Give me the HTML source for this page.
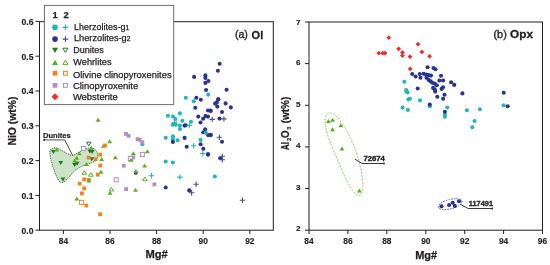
<!DOCTYPE html>
<html><head><meta charset="utf-8"><style>
html,body{margin:0;padding:0;background:#fff;}
svg{display:block;}
text{font-family:"Liberation Sans",Arial,sans-serif;fill:#231f20;}
.tk{font-size:8.4px;font-weight:bold;stroke:#231f20;stroke-width:0.15px;}
.at{font-size:10.2px;font-weight:bold;stroke:#231f20;stroke-width:0.25px;}
.pt{font-size:11.2px;font-weight:bold;stroke:#231f20;stroke-width:0.3px;}
.pa{font-size:10.6px;stroke:#231f20;stroke-width:0.35px;}
.lh{font-size:9.4px;font-weight:bold;stroke:#231f20;stroke-width:0.25px;}
.lg{font-size:9px;stroke:#231f20;stroke-width:0.25px;}
.dl{font-size:7.6px;font-weight:bold;stroke:#231f20;stroke-width:0.2px;}
.fl{font-size:7.3px;font-weight:bold;stroke:#231f20;stroke-width:0.35px;}
</style></head><body>
<svg width="550" height="265" viewBox="0 0 550 265">
<rect width="550" height="265" fill="#fff"/>
<rect x="39.5" y="21.7" width="233.8" height="208.5" fill="none" stroke="#231f20" stroke-width="1"/>
<line x1="63.4" y1="230.2" x2="63.4" y2="234" stroke="#231f20" stroke-width="1"/>
<text x="63.4" y="244.0" class="tk" text-anchor="middle">84</text>
<line x1="110.0" y1="230.2" x2="110.0" y2="234" stroke="#231f20" stroke-width="1"/>
<text x="110.0" y="244.0" class="tk" text-anchor="middle">86</text>
<line x1="156.6" y1="230.2" x2="156.6" y2="234" stroke="#231f20" stroke-width="1"/>
<text x="156.6" y="244.0" class="tk" text-anchor="middle">88</text>
<line x1="203.2" y1="230.2" x2="203.2" y2="234" stroke="#231f20" stroke-width="1"/>
<text x="203.2" y="244.0" class="tk" text-anchor="middle">90</text>
<line x1="249.8" y1="230.2" x2="249.8" y2="234" stroke="#231f20" stroke-width="1"/>
<text x="249.8" y="244.0" class="tk" text-anchor="middle">92</text>
<line x1="35.5" y1="230.2" x2="39.5" y2="230.2" stroke="#231f20" stroke-width="1"/>
<text x="21.5" y="233.5" class="tk" textLength="12.0" lengthAdjust="spacingAndGlyphs">0.0</text>
<line x1="35.5" y1="195.4" x2="39.5" y2="195.4" stroke="#231f20" stroke-width="1"/>
<text x="21.5" y="198.7" class="tk" textLength="12.0" lengthAdjust="spacingAndGlyphs">0.1</text>
<line x1="35.5" y1="160.6" x2="39.5" y2="160.6" stroke="#231f20" stroke-width="1"/>
<text x="21.5" y="163.9" class="tk" textLength="12.0" lengthAdjust="spacingAndGlyphs">0.2</text>
<line x1="35.5" y1="125.8" x2="39.5" y2="125.8" stroke="#231f20" stroke-width="1"/>
<text x="21.5" y="129.2" class="tk" textLength="12.0" lengthAdjust="spacingAndGlyphs">0.3</text>
<line x1="35.5" y1="91.0" x2="39.5" y2="91.0" stroke="#231f20" stroke-width="1"/>
<text x="21.5" y="94.3" class="tk" textLength="12.0" lengthAdjust="spacingAndGlyphs">0.4</text>
<line x1="35.5" y1="56.2" x2="39.5" y2="56.2" stroke="#231f20" stroke-width="1"/>
<text x="21.5" y="59.5" class="tk" textLength="12.0" lengthAdjust="spacingAndGlyphs">0.5</text>
<line x1="35.5" y1="21.4" x2="39.5" y2="21.4" stroke="#231f20" stroke-width="1"/>
<text x="21.5" y="24.8" class="tk" textLength="12.0" lengthAdjust="spacingAndGlyphs">0.6</text>
<rect x="309" y="22" width="233.5" height="208.2" fill="none" stroke="#231f20" stroke-width="1"/>
<line x1="309.0" y1="230.2" x2="309.0" y2="234" stroke="#231f20" stroke-width="1"/>
<text x="309.0" y="244.0" class="tk" text-anchor="middle">84</text>
<line x1="347.9" y1="230.2" x2="347.9" y2="234" stroke="#231f20" stroke-width="1"/>
<text x="347.9" y="244.0" class="tk" text-anchor="middle">86</text>
<line x1="386.8" y1="230.2" x2="386.8" y2="234" stroke="#231f20" stroke-width="1"/>
<text x="386.8" y="244.0" class="tk" text-anchor="middle">88</text>
<line x1="425.8" y1="230.2" x2="425.8" y2="234" stroke="#231f20" stroke-width="1"/>
<text x="425.8" y="244.0" class="tk" text-anchor="middle">90</text>
<line x1="464.7" y1="230.2" x2="464.7" y2="234" stroke="#231f20" stroke-width="1"/>
<text x="464.7" y="244.0" class="tk" text-anchor="middle">92</text>
<line x1="503.6" y1="230.2" x2="503.6" y2="234" stroke="#231f20" stroke-width="1"/>
<text x="503.6" y="244.0" class="tk" text-anchor="middle">94</text>
<line x1="542.5" y1="230.2" x2="542.5" y2="234" stroke="#231f20" stroke-width="1"/>
<text x="542.5" y="244.0" class="tk" text-anchor="middle">96</text>
<line x1="305" y1="230.2" x2="309" y2="230.2" stroke="#231f20" stroke-width="1"/>
<text x="300.4" y="231.4" class="tk" style="font-size:8.1px" text-anchor="end">2</text>
<line x1="305" y1="188.6" x2="309" y2="188.6" stroke="#231f20" stroke-width="1"/>
<text x="300.4" y="189.8" class="tk" style="font-size:8.1px" text-anchor="end">3</text>
<line x1="305" y1="146.9" x2="309" y2="146.9" stroke="#231f20" stroke-width="1"/>
<text x="300.4" y="148.1" class="tk" style="font-size:8.1px" text-anchor="end">4</text>
<line x1="305" y1="105.3" x2="309" y2="105.3" stroke="#231f20" stroke-width="1"/>
<text x="300.4" y="106.5" class="tk" style="font-size:8.1px" text-anchor="end">5</text>
<line x1="305" y1="63.6" x2="309" y2="63.6" stroke="#231f20" stroke-width="1"/>
<text x="300.4" y="64.8" class="tk" style="font-size:8.1px" text-anchor="end">6</text>
<line x1="305" y1="22.0" x2="309" y2="22.0" stroke="#231f20" stroke-width="1"/>
<text x="300.4" y="24.8" class="tk" style="font-size:8.1px" text-anchor="end">7</text>
<text x="145.5" y="258.2" class="at" textLength="22.3" lengthAdjust="spacingAndGlyphs">Mg#</text>
<text x="415.2" y="258.6" class="at" textLength="21.9" lengthAdjust="spacingAndGlyphs">Mg#</text>
<text transform="translate(16.0,145.6) rotate(-90)" class="at" textLength="49" lengthAdjust="spacingAndGlyphs">NiO (wt%)</text>
<g transform="translate(289.4,150.0) rotate(-90)"><text x="0" y="0" class="at" textLength="7.9" lengthAdjust="spacingAndGlyphs">Al</text><text x="9.2" y="1.6" class="at" style="font-size:5px">2</text><text x="11.9" y="0" class="at" textLength="7.6" lengthAdjust="spacingAndGlyphs">O</text><text x="20.6" y="1.6" class="at" style="font-size:5px">3</text><text x="26.7" y="0" class="at" textLength="26.6" lengthAdjust="spacingAndGlyphs">(wt%)</text></g>
<text x="234.9" y="38.4" class="pa" textLength="13.0" lengthAdjust="spacingAndGlyphs">(a)</text>
<text x="251.6" y="38.7" class="pt" textLength="11.6" lengthAdjust="spacingAndGlyphs">Ol</text>
<text x="493.5" y="38.1" class="pa" textLength="13.3" lengthAdjust="spacingAndGlyphs">(b)</text>
<text x="510.1" y="38.1" class="pt" textLength="22.9" lengthAdjust="spacingAndGlyphs">Opx</text>
<path d="M50.30 150.00C50.65 149.25 51.22 148.85 52.00 148.50C52.78 148.15 53.92 147.88 55.00 147.90C56.08 147.92 57.45 148.20 58.50 148.60C59.55 149.00 59.70 149.42 61.30 150.30C62.90 151.18 66.27 153.03 68.10 153.90C69.93 154.77 70.75 155.62 72.30 155.50C73.85 155.38 75.70 154.08 77.40 153.20C79.10 152.32 80.67 151.05 82.50 150.20C84.33 149.35 86.57 148.38 88.40 148.10C90.23 147.82 92.08 147.87 93.50 148.50C94.92 149.13 96.18 150.48 96.90 151.90C97.62 153.32 98.08 155.45 97.80 157.00C97.52 158.55 96.77 160.07 95.20 161.20C93.63 162.33 90.93 162.80 88.40 163.80C85.87 164.80 82.40 165.93 80.00 167.20C77.60 168.47 75.98 169.57 74.00 171.40C72.02 173.23 69.93 176.37 68.10 178.20C66.27 180.03 64.42 181.83 63.00 182.40C61.58 182.97 60.73 182.72 59.60 181.60C58.47 180.48 57.37 178.30 56.20 175.70C55.03 173.10 53.53 168.90 52.60 166.00C51.67 163.10 51.05 160.47 50.60 158.30C50.15 156.13 49.95 154.38 49.90 153.00C49.85 151.62 49.95 150.75 50.30 150.00Z" fill="#cde3c6" stroke="#336e33" stroke-width="0.95" stroke-dasharray="1.3 0.9"/>
<text x="43.0" y="138.1" class="dl" textLength="27.8" lengthAdjust="spacingAndGlyphs">Dunites</text>
<path d="M44.2 139.9H64.8L72.5 155.2" fill="none" stroke="#231f20" stroke-width="0.8"/>
<circle cx="44.2" cy="139.9" r="1" fill="#231f20"/>
<path d="M329.60 113.00C330.72 113.00 332.40 113.47 333.80 114.30C335.20 115.13 336.48 116.28 338.00 118.00C339.52 119.72 341.25 122.12 342.90 124.60C344.55 127.08 346.38 130.13 347.90 132.90C349.42 135.67 350.75 138.43 352.00 141.20C353.25 143.97 354.23 146.15 355.40 149.50C356.57 152.85 357.92 157.12 359.00 161.30C360.08 165.48 361.27 170.50 361.90 174.60C362.53 178.70 362.80 182.92 362.80 185.90C362.80 188.88 362.45 190.95 361.90 192.50C361.35 194.05 360.62 195.03 359.50 195.20C358.38 195.37 356.85 195.05 355.20 193.50C353.55 191.95 351.48 189.05 349.60 185.90C347.72 182.75 345.80 178.70 343.90 174.60C342.00 170.50 339.92 165.15 338.20 161.30C336.48 157.45 334.75 154.30 333.60 151.50C332.45 148.70 332.23 147.05 331.30 144.50C330.37 141.95 328.97 139.23 328.00 136.20C327.03 133.17 326.00 129.20 325.50 126.30C325.00 123.40 324.73 120.80 325.00 118.80C325.27 116.80 326.33 115.27 327.10 114.30C327.87 113.33 328.48 113.00 329.60 113.00Z" fill="none" stroke="#8cc63f" stroke-width="0.9" stroke-dasharray="2 1.3"/>
<ellipse cx="450.2" cy="204.2" rx="12.1" ry="4.7" transform="rotate(-14 450.2 204.2)" fill="none" stroke="#3d4a9c" stroke-width="0.85" stroke-dasharray="1.6 1.1"/>
<text x="363.4" y="160.9" class="fl" textLength="21.5" lengthAdjust="spacingAndGlyphs">72674</text>
<path d="M354.9 159.2L362.1 163.5H384" fill="none" stroke="#231f20" stroke-width="0.9"/><circle cx="384" cy="163.5" r="0.9" fill="#231f20"/>
<text x="468.8" y="206.3" class="fl" textLength="24.2" lengthAdjust="spacingAndGlyphs">117491</text>
<path d="M460.5 204.3L468.2 208.5H492.1" fill="none" stroke="#231f20" stroke-width="0.9"/><circle cx="492.1" cy="208.5" r="0.9" fill="#231f20"/>
<circle cx="142.40" cy="144.30" r="2.05" fill="#22b5bd"/>
<circle cx="165.70" cy="137.80" r="2.05" fill="#22b5bd"/>
<circle cx="172.90" cy="136.20" r="2.05" fill="#22b5bd"/>
<circle cx="172.90" cy="139.00" r="2.05" fill="#22b5bd"/>
<circle cx="177.60" cy="140.30" r="2.05" fill="#22b5bd"/>
<circle cx="165.70" cy="161.50" r="2.05" fill="#22b5bd"/>
<circle cx="172.90" cy="162.50" r="2.05" fill="#22b5bd"/>
<circle cx="179.90" cy="113.40" r="2.05" fill="#22b5bd"/>
<circle cx="167.90" cy="115.70" r="2.05" fill="#22b5bd"/>
<circle cx="173.00" cy="116.50" r="2.05" fill="#22b5bd"/>
<circle cx="175.40" cy="119.10" r="2.05" fill="#22b5bd"/>
<circle cx="172.80" cy="124.80" r="2.05" fill="#22b5bd"/>
<circle cx="175.80" cy="124.80" r="2.05" fill="#22b5bd"/>
<circle cx="182.40" cy="120.80" r="2.05" fill="#22b5bd"/>
<circle cx="179.90" cy="125.60" r="2.05" fill="#22b5bd"/>
<circle cx="179.90" cy="129.00" r="2.05" fill="#22b5bd"/>
<circle cx="191.00" cy="121.70" r="2.05" fill="#22b5bd"/>
<circle cx="185.80" cy="97.70" r="2.05" fill="#22b5bd"/>
<circle cx="193.80" cy="101.30" r="2.05" fill="#22b5bd"/>
<circle cx="208.20" cy="94.60" r="2.05" fill="#22b5bd"/>
<circle cx="200.50" cy="139.90" r="2.05" fill="#22b5bd"/>
<circle cx="214.80" cy="176.50" r="2.05" fill="#22b5bd"/>
<circle cx="135.80" cy="172.80" r="2.05" fill="#28348f"/>
<circle cx="184.60" cy="125.60" r="2.05" fill="#28348f"/>
<circle cx="184.60" cy="137.90" r="2.05" fill="#28348f"/>
<circle cx="172.90" cy="141.90" r="2.05" fill="#28348f"/>
<circle cx="186.70" cy="146.80" r="2.05" fill="#28348f"/>
<circle cx="165.70" cy="187.50" r="2.05" fill="#28348f"/>
<circle cx="189.20" cy="190.40" r="2.05" fill="#28348f"/>
<circle cx="196.30" cy="97.70" r="2.05" fill="#28348f"/>
<circle cx="200.80" cy="99.80" r="2.05" fill="#28348f"/>
<circle cx="218.20" cy="99.40" r="2.05" fill="#28348f"/>
<circle cx="216.80" cy="102.40" r="2.05" fill="#28348f"/>
<circle cx="215.10" cy="103.60" r="2.05" fill="#28348f"/>
<circle cx="217.30" cy="106.60" r="2.05" fill="#28348f"/>
<circle cx="195.30" cy="107.80" r="2.05" fill="#28348f"/>
<circle cx="208.00" cy="110.50" r="2.05" fill="#28348f"/>
<circle cx="210.40" cy="110.50" r="2.05" fill="#28348f"/>
<circle cx="222.00" cy="112.00" r="2.05" fill="#28348f"/>
<circle cx="198.30" cy="116.60" r="2.05" fill="#28348f"/>
<circle cx="205.40" cy="116.10" r="2.05" fill="#28348f"/>
<circle cx="208.00" cy="116.60" r="2.05" fill="#28348f"/>
<circle cx="203.10" cy="118.80" r="2.05" fill="#28348f"/>
<circle cx="200.50" cy="122.50" r="2.05" fill="#28348f"/>
<circle cx="219.50" cy="118.60" r="2.05" fill="#28348f"/>
<circle cx="185.80" cy="125.20" r="2.05" fill="#28348f"/>
<circle cx="205.20" cy="129.30" r="2.05" fill="#28348f"/>
<circle cx="203.30" cy="132.20" r="2.05" fill="#28348f"/>
<circle cx="208.10" cy="135.10" r="2.05" fill="#28348f"/>
<circle cx="210.60" cy="135.10" r="2.05" fill="#28348f"/>
<circle cx="222.00" cy="141.80" r="2.05" fill="#28348f"/>
<circle cx="200.60" cy="144.20" r="2.05" fill="#28348f"/>
<circle cx="203.30" cy="148.70" r="2.05" fill="#28348f"/>
<circle cx="208.10" cy="154.40" r="2.05" fill="#28348f"/>
<circle cx="220.20" cy="158.20" r="2.05" fill="#28348f"/>
<circle cx="208.00" cy="154.40" r="2.05" fill="#28348f"/>
<circle cx="210.80" cy="134.90" r="2.05" fill="#28348f"/>
<circle cx="219.70" cy="63.80" r="2.05" fill="#28348f"/>
<circle cx="217.90" cy="70.80" r="2.05" fill="#28348f"/>
<circle cx="194.10" cy="76.90" r="2.05" fill="#28348f"/>
<circle cx="205.40" cy="75.40" r="2.05" fill="#28348f"/>
<circle cx="205.40" cy="77.90" r="2.05" fill="#28348f"/>
<circle cx="208.40" cy="81.00" r="2.05" fill="#28348f"/>
<circle cx="205.40" cy="82.90" r="2.05" fill="#28348f"/>
<circle cx="206.10" cy="90.00" r="2.05" fill="#28348f"/>
<circle cx="226.60" cy="89.80" r="2.05" fill="#28348f"/>
<circle cx="225.60" cy="103.40" r="2.05" fill="#28348f"/>
<circle cx="230.80" cy="107.40" r="2.05" fill="#28348f"/>
<circle cx="210.80" cy="110.90" r="2.05" fill="#28348f"/>
<circle cx="218.30" cy="99.30" r="2.05" fill="#28348f"/>
<circle cx="205.90" cy="132.80" r="2.05" fill="#22b5bd"/>
<path d="M171.70 122.60H177.10M174.40 119.90V125.30" stroke="#22b5bd" stroke-width="1.1" fill="none"/>
<path d="M186.60 125.50H192.00M189.30 122.80V128.20" stroke="#22b5bd" stroke-width="1.1" fill="none"/>
<path d="M191.00 145.70H196.40M193.70 143.00V148.40" stroke="#22b5bd" stroke-width="1.1" fill="none"/>
<path d="M200.10 153.50H205.50M202.80 150.80V156.20" stroke="#22b5bd" stroke-width="1.1" fill="none"/>
<path d="M148.70 175.80H154.10M151.40 173.10V178.50" stroke="#22b5bd" stroke-width="1.1" fill="none"/>
<path d="M177.20 177.10H182.60M179.90 174.40V179.80" stroke="#22b5bd" stroke-width="1.1" fill="none"/>
<path d="M209.50 119.40H214.90M212.20 116.70V122.10" stroke="#4a4d9c" stroke-width="1.1" fill="none"/>
<path d="M221.20 118.90H226.60M223.90 116.20V121.60" stroke="#4a4d9c" stroke-width="1.1" fill="none"/>
<path d="M216.70 137.30H222.10M219.40 134.60V140.00" stroke="#4a4d9c" stroke-width="1.1" fill="none"/>
<path d="M219.60 156.30H225.00M222.30 153.60V159.00" stroke="#4a4d9c" stroke-width="1.1" fill="none"/>
<path d="M219.60 159.80H225.00M222.30 157.10V162.50" stroke="#4a4d9c" stroke-width="1.1" fill="none"/>
<path d="M193.40 184.20H198.80M196.10 181.50V186.90" stroke="#4a4d9c" stroke-width="1.1" fill="none"/>
<path d="M188.90 192.80H194.30M191.60 190.10V195.50" stroke="#4a4d9c" stroke-width="1.1" fill="none"/>
<path d="M239.80 200.20H245.20M242.50 197.50V202.90" stroke="#4a4d9c" stroke-width="1.1" fill="none"/>
<rect x="124.10" y="132.00" width="3.80" height="3.80" fill="#b48cc8"/>
<rect x="126.70" y="133.90" width="3.80" height="3.80" fill="#b48cc8"/>
<rect x="135.70" y="137.20" width="3.80" height="3.80" fill="#b48cc8"/>
<rect x="137.80" y="138.00" width="3.80" height="3.80" fill="#b48cc8"/>
<rect x="140.40" y="140.40" width="3.80" height="3.80" fill="#b48cc8"/>
<rect x="131.40" y="155.60" width="3.80" height="3.80" fill="#b48cc8"/>
<rect x="121.90" y="163.80" width="3.80" height="3.80" fill="#b48cc8"/>
<rect x="152.50" y="182.50" width="3.80" height="3.80" fill="#b48cc8"/>
<rect x="124.20" y="187.20" width="3.80" height="3.80" fill="#b48cc8"/>
<rect x="81.65" y="146.35" width="4.10" height="4.10" fill="#fff" stroke="#b48cc8" stroke-width="1"/>
<rect x="140.35" y="152.35" width="4.10" height="4.10" fill="#fff" stroke="#b48cc8" stroke-width="1"/>
<rect x="128.35" y="156.55" width="4.10" height="4.10" fill="#fff" stroke="#b48cc8" stroke-width="1"/>
<rect x="114.15" y="177.75" width="4.10" height="4.10" fill="#fff" stroke="#b48cc8" stroke-width="1"/>
<polygon points="50.95,150.10 55.85,150.10 53.40,154.10" fill="#1d7a2e"/>
<polygon points="58.35,161.00 63.25,161.00 60.80,165.00" fill="#1d7a2e"/>
<polygon points="60.55,177.60 65.45,177.60 63.00,181.60" fill="#1d7a2e"/>
<polygon points="74.65,161.70 79.55,161.70 77.10,165.70" fill="#1d7a2e"/>
<polygon points="72.15,163.10 77.05,163.10 74.60,167.10" fill="#1d7a2e"/>
<polygon points="87.35,149.60 92.25,149.60 89.80,153.60" fill="#1d7a2e"/>
<polygon points="89.65,150.00 94.55,150.00 92.10,154.00" fill="#1d7a2e"/>
<polygon points="89.35,157.30 94.25,157.30 91.80,161.30" fill="#1d7a2e"/>
<polygon points="86.50,142.20 91.10,142.20 88.80,145.80" fill="#fff" stroke="#1d7a2e" stroke-width="1"/>
<rect x="98.30" y="152.80" width="3.80" height="3.80" fill="#f5821f"/>
<rect x="86.80" y="155.70" width="3.80" height="3.80" fill="#f5821f"/>
<rect x="93.70" y="157.30" width="3.80" height="3.80" fill="#f5821f"/>
<rect x="98.40" y="163.70" width="3.80" height="3.80" fill="#f5821f"/>
<rect x="95.90" y="172.80" width="3.80" height="3.80" fill="#f5821f"/>
<rect x="82.30" y="177.50" width="3.80" height="3.80" fill="#f5821f"/>
<rect x="77.70" y="181.70" width="3.80" height="3.80" fill="#f5821f"/>
<rect x="82.30" y="186.50" width="3.80" height="3.80" fill="#f5821f"/>
<rect x="80.00" y="191.50" width="3.80" height="3.80" fill="#f5821f"/>
<rect x="84.40" y="203.60" width="3.80" height="3.80" fill="#f5821f"/>
<rect x="98.20" y="212.30" width="3.80" height="3.80" fill="#f5821f"/>
<rect x="87.00" y="177.90" width="3.80" height="3.80" fill="#f5821f"/>
<rect x="79.55" y="200.35" width="4.10" height="4.10" fill="#fff" stroke="#f5821f" stroke-width="1"/>
<polygon points="95.65,121.80 100.55,121.80 98.10,117.80" fill="#5cad1f"/>
<polygon points="107.25,143.30 112.15,143.30 109.70,139.30" fill="#5cad1f"/>
<polygon points="100.95,147.80 105.85,147.80 103.40,143.80" fill="#5cad1f"/>
<polygon points="112.85,159.30 117.75,159.30 115.30,155.30" fill="#5cad1f"/>
<polygon points="99.15,161.00 104.05,161.00 101.60,157.00" fill="#5cad1f"/>
<polygon points="98.45,173.80 103.35,173.80 100.90,169.80" fill="#5cad1f"/>
<polygon points="74.45,200.40 79.35,200.40 76.90,196.40" fill="#5cad1f"/>
<polygon points="107.55,194.80 112.45,194.80 110.00,190.80" fill="#5cad1f"/>
<polygon points="130.85,155.30 135.75,155.30 133.30,151.30" fill="#5cad1f"/>
<polygon points="128.45,161.80 133.35,161.80 130.90,157.80" fill="#5cad1f"/>
<polygon points="144.85,153.20 149.75,153.20 147.30,149.20" fill="#5cad1f"/>
<polygon points="142.15,167.40 147.05,167.40 144.60,163.40" fill="#5cad1f"/>
<polygon points="133.35,173.00 138.25,173.00 135.80,169.00" fill="#5cad1f"/>
<polygon points="133.05,191.80 137.95,191.80 135.50,187.80" fill="#5cad1f"/>
<polygon points="54.35,151.40 59.25,151.40 56.80,147.40" fill="#5cad1f"/>
<polygon points="76.85,155.30 81.75,155.30 79.30,151.30" fill="#5cad1f"/>
<polygon points="74.25,159.70 79.15,159.70 76.70,155.70" fill="#5cad1f"/>
<polygon points="72.25,162.50 77.15,162.50 74.70,158.50" fill="#5cad1f"/>
<polygon points="88.85,150.00 93.75,150.00 91.30,146.00" fill="#5cad1f"/>
<polygon points="83.95,165.90 88.85,165.90 86.40,161.90" fill="#5cad1f"/>
<polygon points="82.00,174.20 86.60,174.20 84.30,170.60" fill="#fff" stroke="#5cad1f" stroke-width="1"/>
<polygon points="88.60,176.20 93.20,176.20 90.90,172.60" fill="#fff" stroke="#5cad1f" stroke-width="1"/>
<polygon points="142.60,180.70 147.20,180.70 144.90,177.10" fill="#fff" stroke="#5cad1f" stroke-width="1"/>
<polygon points="109.10,190.90 113.70,190.90 111.40,187.30" fill="#fff" stroke="#5cad1f" stroke-width="1"/>
<polygon points="86.35,182.40 91.25,182.40 88.80,178.40" fill="#5cad1f"/>
<rect x="103.10" y="143.60" width="3.80" height="3.80" fill="#f5821f"/>
<polygon points="388.80,35.30 391.20,37.70 388.80,40.10 386.40,37.70" fill="#f42a2a"/>
<polygon points="378.80,50.80 381.20,53.20 378.80,55.60 376.40,53.20" fill="#f42a2a"/>
<polygon points="382.80,50.80 385.20,53.20 382.80,55.60 380.40,53.20" fill="#f42a2a"/>
<polygon points="385.00,50.80 387.40,53.20 385.00,55.60 382.60,53.20" fill="#f42a2a"/>
<polygon points="398.60,46.40 401.00,48.80 398.60,51.20 396.20,48.80" fill="#f42a2a"/>
<polygon points="402.40,50.10 404.80,52.50 402.40,54.90 400.00,52.50" fill="#f42a2a"/>
<polygon points="402.40,53.20 404.80,55.60 402.40,58.00 400.00,55.60" fill="#f42a2a"/>
<polygon points="410.00,54.30 412.40,56.70 410.00,59.10 407.60,56.70" fill="#f42a2a"/>
<polygon points="418.00,41.80 420.40,44.20 418.00,46.60 415.60,44.20" fill="#f42a2a"/>
<polygon points="421.90,49.50 424.30,51.90 421.90,54.30 419.50,51.90" fill="#f42a2a"/>
<polygon points="429.60,53.90 432.00,56.30 429.60,58.70 427.20,56.30" fill="#f42a2a"/>
<polygon points="410.20,66.50 412.60,68.90 410.20,71.30 407.80,68.90" fill="#f42a2a"/>
<polygon points="325.95,123.10 330.85,123.10 328.40,119.10" fill="#5cad1f"/>
<polygon points="330.15,121.70 335.05,121.70 332.60,117.70" fill="#5cad1f"/>
<polygon points="338.35,127.20 343.25,127.20 340.80,123.20" fill="#5cad1f"/>
<polygon points="330.15,131.30 335.05,131.30 332.60,127.30" fill="#5cad1f"/>
<polygon points="339.55,150.60 344.45,150.60 342.00,146.60" fill="#5cad1f"/>
<polygon points="356.95,192.50 361.85,192.50 359.40,188.50" fill="#5cad1f"/>
<circle cx="404.30" cy="81.80" r="2.05" fill="#22b5bd"/>
<circle cx="406.10" cy="90.10" r="2.05" fill="#22b5bd"/>
<circle cx="407.60" cy="92.40" r="2.05" fill="#22b5bd"/>
<circle cx="406.60" cy="91.80" r="2.05" fill="#22b5bd"/>
<circle cx="408.40" cy="99.50" r="2.05" fill="#22b5bd"/>
<circle cx="409.90" cy="98.80" r="2.05" fill="#22b5bd"/>
<circle cx="420.00" cy="100.40" r="2.05" fill="#22b5bd"/>
<circle cx="402.60" cy="107.60" r="2.05" fill="#22b5bd"/>
<circle cx="407.90" cy="109.90" r="2.05" fill="#22b5bd"/>
<circle cx="447.30" cy="107.50" r="2.05" fill="#22b5bd"/>
<circle cx="444.90" cy="114.80" r="2.05" fill="#22b5bd"/>
<circle cx="444.90" cy="116.70" r="2.05" fill="#22b5bd"/>
<circle cx="466.90" cy="110.30" r="2.05" fill="#22b5bd"/>
<circle cx="479.90" cy="109.20" r="2.05" fill="#22b5bd"/>
<circle cx="474.50" cy="121.00" r="2.05" fill="#22b5bd"/>
<circle cx="472.30" cy="127.30" r="2.05" fill="#22b5bd"/>
<circle cx="503.60" cy="105.20" r="2.05" fill="#22b5bd"/>
<circle cx="429.80" cy="106.20" r="2.05" fill="#22b5bd"/>
<circle cx="427.60" cy="67.20" r="2.05" fill="#28348f"/>
<circle cx="433.50" cy="68.00" r="2.05" fill="#28348f"/>
<circle cx="435.50" cy="69.20" r="2.05" fill="#28348f"/>
<circle cx="412.20" cy="74.00" r="2.05" fill="#28348f"/>
<circle cx="415.60" cy="76.50" r="2.05" fill="#28348f"/>
<circle cx="419.80" cy="74.00" r="2.05" fill="#28348f"/>
<circle cx="420.50" cy="77.70" r="2.05" fill="#28348f"/>
<circle cx="423.60" cy="73.70" r="2.05" fill="#28348f"/>
<circle cx="426.00" cy="74.60" r="2.05" fill="#28348f"/>
<circle cx="428.60" cy="75.10" r="2.05" fill="#28348f"/>
<circle cx="431.00" cy="75.60" r="2.05" fill="#28348f"/>
<circle cx="426.50" cy="77.70" r="2.05" fill="#28348f"/>
<circle cx="428.60" cy="79.90" r="2.05" fill="#28348f"/>
<circle cx="430.70" cy="81.40" r="2.05" fill="#28348f"/>
<circle cx="432.30" cy="82.80" r="2.05" fill="#28348f"/>
<circle cx="434.70" cy="83.60" r="2.05" fill="#28348f"/>
<circle cx="436.80" cy="85.20" r="2.05" fill="#28348f"/>
<circle cx="433.10" cy="87.90" r="2.05" fill="#28348f"/>
<circle cx="434.70" cy="89.40" r="2.05" fill="#28348f"/>
<circle cx="435.20" cy="91.60" r="2.05" fill="#28348f"/>
<circle cx="437.30" cy="96.80" r="2.05" fill="#28348f"/>
<circle cx="441.00" cy="75.70" r="2.05" fill="#28348f"/>
<circle cx="439.40" cy="80.50" r="2.05" fill="#28348f"/>
<circle cx="443.10" cy="80.50" r="2.05" fill="#28348f"/>
<circle cx="443.10" cy="87.30" r="2.05" fill="#28348f"/>
<circle cx="441.60" cy="88.90" r="2.05" fill="#28348f"/>
<circle cx="444.50" cy="94.70" r="2.05" fill="#28348f"/>
<circle cx="443.10" cy="98.80" r="2.05" fill="#28348f"/>
<circle cx="451.10" cy="82.30" r="2.05" fill="#28348f"/>
<circle cx="454.20" cy="84.90" r="2.05" fill="#28348f"/>
<circle cx="462.40" cy="93.40" r="2.05" fill="#28348f"/>
<circle cx="417.70" cy="88.50" r="2.05" fill="#28348f"/>
<circle cx="429.80" cy="104.50" r="2.05" fill="#28348f"/>
<circle cx="444.90" cy="111.70" r="2.05" fill="#28348f"/>
<circle cx="503.70" cy="92.80" r="2.05" fill="#28348f"/>
<circle cx="507.70" cy="106.20" r="2.05" fill="#28348f"/>
<circle cx="441.50" cy="206.30" r="2.05" fill="#28348f"/>
<circle cx="449.10" cy="205.00" r="2.05" fill="#28348f"/>
<circle cx="452.70" cy="202.70" r="2.05" fill="#28348f"/>
<circle cx="454.80" cy="205.90" r="2.05" fill="#28348f"/>
<circle cx="459.00" cy="201.20" r="2.05" fill="#28348f"/>
<rect x="44.4" y="5.4" width="129.3" height="99.2" fill="#fff" stroke="#6e6e6e" stroke-width="1"/>
<text x="52.5" y="17.9" class="lh">1</text><text x="63.6" y="17.9" class="lh">2</text>
<circle cx="55.00" cy="27.40" r="2.80" fill="#22b5bd"/>
<path d="M62.60 27.40H68.20M65.40 24.60V30.20" stroke="#22b5bd" stroke-width="1.1" fill="none"/>
<text x="74.0" y="29.9" class="lg" textLength="55.0" lengthAdjust="spacingAndGlyphs">Lherzolites-g<tspan font-size="6.5">1</tspan></text>
<circle cx="55.00" cy="39.10" r="2.80" fill="#28348f"/>
<path d="M62.60 39.10H68.20M65.40 36.30V41.90" stroke="#4a4d9c" stroke-width="1.1" fill="none"/>
<text x="74.0" y="40.8" class="lg" textLength="56.4" lengthAdjust="spacingAndGlyphs">Lherzolites-g<tspan font-size="6.5">2</tspan></text>
<polygon points="52.00,47.70 58.00,47.70 55.00,52.90" fill="#1d7a2e"/>
<polygon points="62.85,48.20 67.95,48.20 65.40,52.40" fill="#fff" stroke="#1d7a2e" stroke-width="1"/>
<text x="73.3" y="53.0" class="lg" textLength="30.5" lengthAdjust="spacingAndGlyphs">Dunites</text>
<polygon points="52.00,64.90 58.00,64.90 55.00,59.70" fill="#5cad1f"/>
<polygon points="62.85,64.40 67.95,64.40 65.40,60.20" fill="#fff" stroke="#5cad1f" stroke-width="1"/>
<text x="73.3" y="64.9" class="lg" textLength="38.2" lengthAdjust="spacingAndGlyphs">Wehrlites</text>
<rect x="52.65" y="70.95" width="4.70" height="4.70" fill="#f5821f"/>
<rect x="63.50" y="71.40" width="3.80" height="3.80" fill="#fff" stroke="#f5821f" stroke-width="1"/>
<text x="72.9" y="77.8" class="lg" textLength="98.7" lengthAdjust="spacingAndGlyphs">Olivine clinopyroxenites</text>
<rect x="52.65" y="83.05" width="4.70" height="4.70" fill="#b48cc8"/>
<rect x="63.50" y="83.50" width="3.80" height="3.80" fill="#fff" stroke="#b48cc8" stroke-width="1"/>
<text x="72.9" y="88.5" class="lg" textLength="65.3" lengthAdjust="spacingAndGlyphs">Clinopyroxenite</text>
<polygon points="55.00,93.35 58.45,96.80 55.00,100.25 51.55,96.80" fill="#f42a2a"/>
<text x="72.9" y="99.7" class="lg" textLength="44.8" lengthAdjust="spacingAndGlyphs">Websterite</text>
</svg></body></html>
